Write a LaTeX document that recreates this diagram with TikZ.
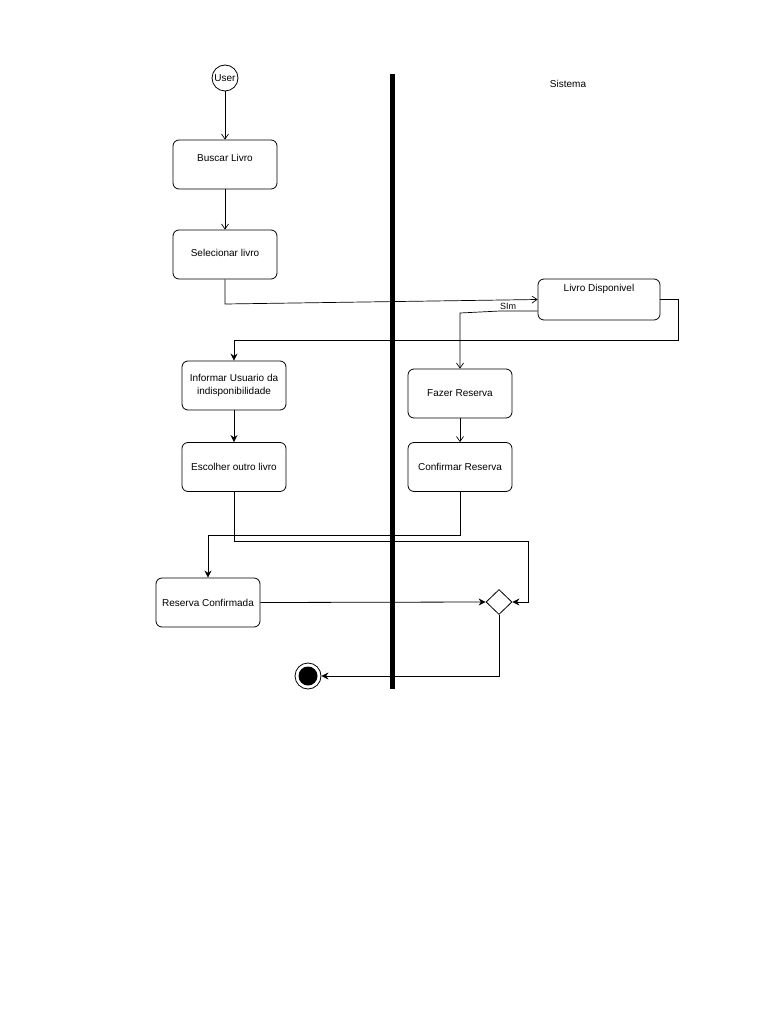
\documentclass[tikz,border=0pt]{standalone}
\usepackage{fontspec}
\setmainfont{Liberation Sans}
\usetikzlibrary{arrows.meta,shapes.geometric}
\begin{document}
\begin{tikzpicture}[x=1pt,y=-1pt,
  every node/.style={font=\fontsize{10}{13}\selectfont},
  act/.style={draw, line width=0.8pt, rounded corners=6pt, minimum width=104pt, minimum height=49pt, inner sep=0pt, align=center},
  openarr/.style={draw, line width=0.7pt, -{Straight Barb[length=5pt,width=7pt]}},
  fillarr/.style={draw, line width=0.8pt, -{Stealth[length=7pt,width=7pt]}},
  lineonly/.style={draw, line width=0.8pt}]
\useasboundingbox (0,0) rectangle (768,1024);
\fill[white] (0,0) rectangle (768,1024);

% swimlane separator
\draw[line width=5pt] (392,74) -- (392,689);
\node (sis) at (568,84) {Sistema};

% start
\node[draw, circle, line width=0.8pt, minimum size=26pt, inner sep=0pt] (user) at (225,78) {User};

% activities
\node[act] (bl) at (225,164.5) {};
\node at (225,158) {Buscar Livro};
\node[act] (sel) at (225,254.5) {};
\node at (225,253) {Selecionar livro};
\node[act, minimum width=122pt, minimum height=41pt] (ld) at (599,299.5) {};
\node at (599,289) {Livro Disponivel};
\node[act] (inf) at (234,385.5) {Informar Usuario da\\indisponibilidade};
\node[act] (esc) at (234,467) {Escolher outro livro};
\node[act] (fr) at (460,393.5) {Fazer Reserva};
\node[act] (cr) at (460,467) {Confirmar Reserva};
\node[act] (rc) at (208,602.5) {Reserva Confirmada};

% decision and end
\node[draw, diamond, line width=0.8pt, minimum width=26pt, minimum height=25pt, inner sep=0pt] (dec) at (499,602) {};
\node[draw, circle, line width=0.8pt, minimum size=26pt, inner sep=0pt] (endo) at (308,676) {};
\node[fill=black, circle, minimum size=19pt, inner sep=0pt] (endi) at (308,676) {};

% connectors
\draw[openarr] (user) -- (bl);
\draw[openarr] (bl) -- (sel);
\draw[openarr] (sel.south) -- (225,304) -- (ld.west);
\draw[openarr] ([yshift=-11.5pt]ld.west) -- (500,311) -- (460,313) -- (fr.north);
\node[font=\fontsize{9}{10}\selectfont, inner sep=1pt] (sim) at (508,306) {SIm};
\draw[fillarr] (ld.east) -- (678,299.5) -- (678,340) -- (234,340) -- (inf.north);
\draw[fillarr] (inf) -- (esc);
\draw[openarr] (fr) -- (cr);
\draw[fillarr] (esc.south) -- (234,541) -- (528,541) -- (528,602) -- (dec.east);
\draw[fillarr] (cr.south) -- (460,535) -- (208,535) -- (rc.north);
\draw[fillarr] (rc.east) -- (dec.west);
\draw[fillarr] (dec.south) -- (499,676) -- (endo.east);
\end{tikzpicture}
\end{document}
